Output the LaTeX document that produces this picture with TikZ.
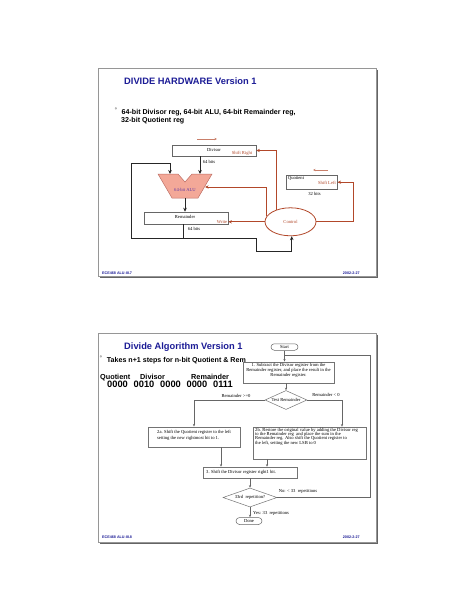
\documentclass[tikz,border=0pt]{standalone}
\usepackage{fontspec}
\setmainfont{Liberation Serif}
\newfontfamily\arialf{Liberation Sans}
\usetikzlibrary{arrows.meta,shapes.geometric,shapes.misc}
\definecolor{ttlblue}{RGB}{28,28,150}
\definecolor{ctlc}{RGB}{178,72,42}
\definecolor{alufill}{RGB}{243,168,152}
\definecolor{aluedge}{RGB}{190,110,100}
\definecolor{alutext}{RGB}{95,55,165}
\definecolor{frmc}{RGB}{150,150,150}
\definecolor{shdc}{RGB}{100,100,100}
\begin{document}
\begin{tikzpicture}[x=1pt,y=-1pt,
  ttl/.style={font=\arialf\bfseries\fontsize{9.3}{11}\selectfont, text=ttlblue, inner sep=0pt},
  body/.style={font=\arialf\bfseries\fontsize{7.1}{8}\selectfont, inner sep=0pt},
  hdr/.style={font=\arialf\bfseries\fontsize{7.3}{8}\selectfont, inner sep=0pt},
  num/.style={font=\arialf\bfseries\fontsize{9.3}{11}\selectfont, inner sep=0pt},
  bul/.style={font=\arialf\fontsize{6.5}{6.5}\selectfont, text=black!70, inner sep=0pt},
  foot/.style={font=\arialf\bfseries\fontsize{3.7}{4.4}\selectfont, text=ttlblue, inner sep=0pt},
  lbl/.style={font=\fontsize{4.6}{5.2}\selectfont, inner sep=0pt},
  ctltxt/.style={lbl, text=ctlc},
  reg/.style={draw=black!60, line width=0.5pt, fill=white, inner sep=0pt},
  blk/.style={draw=black!85, line width=1pt},
  blkarr/.style={blk, -{Stealth[length=4pt,width=3.6pt]}},
  ctlarr/.style={draw=ctlc, line width=0.8pt, -{Stealth[length=3.6pt,width=3.2pt]}},
  hint/.style={draw=ctlc!70, line width=0.6pt, -{Stealth[length=2.6pt,width=2.4pt]}},
  ctlnode/.style={ellipse, draw=ctlc, line width=0.8pt, fill=white, inner sep=0pt, font=\fontsize{4.6}{5.2}\selectfont, text=ctlc},
  fbox/.style={draw=black!55, line width=0.5pt, fill=white, inner sep=0pt},
  ftxt/.style={font=\fontsize{4.6}{4.3}\selectfont, inner sep=0pt},
  fl/.style={draw=black!60, line width=0.5pt},
  flarr/.style={fl, -{Stealth[length=2.6pt,width=2.2pt]}},
  term/.style={rounded rectangle, draw=black!60, line width=0.5pt, fill=white, inner sep=0pt, font=\fontsize{4.6}{5}\selectfont},
  dia/.style={diamond, draw=black!55, line width=0.5pt, fill=white, inner sep=0pt, aspect=2.5, font=\fontsize{4.6}{5}\selectfont},
]
\useasboundingbox (0,0) rectangle (474,613);
\fill[white] (0,0) rectangle (474,613);

% ================= Slide 1 =================
\draw[draw=frmc, line width=0.6pt] (98,68) rectangle (376,276.5);
\draw[draw=shdc, line width=1.3pt] (377.2,69.5) -- (377.2,277.7) -- (99.5,277.7);
\node[ttl, anchor=base west] (t1) at (124,84) {DIVIDE HARDWARE Version 1};
\node[bul] (bul1) at (116,110.5) {°};
\node[body, anchor=base west] (txt1a) at (121.5,114.9) {64-bit Divisor reg, 64-bit ALU, 64-bit Remainder reg,};
\node[body, anchor=base west] (txt1b) at (121,122.9) {32-bit Quotient reg};

% divisor
\coordinate (h1a) at (197,139);
\coordinate (h1b) at (217,139);
\draw[hint] (h1a) -- (h1b);
\node[reg, minimum width=84pt, minimum height=11pt] (div) at (214,150.5) {};
\node[lbl, anchor=base] (divl) at (214,151.6) {Divisor};
\node[ctltxt, anchor=base] (shr) at (242,154) {Shift Right};
\node[lbl, anchor=base] (db) at (209,163.5) {64 bits};

% ALU
\draw[fill=alufill, draw=aluedge, line width=0.5pt] (158,174) -- (178,174) -- (185,182) -- (192,174) -- (212,174) -- (198,198) -- (172,198) -- cycle;
\node[lbl, text=alutext] (alu) at (185,190) {64-bit ALU};
\coordinate (aluL) at (170,174);
\coordinate (aluR) at (200,174);
\coordinate (aluO) at (185,198);
\coordinate (aluC) at (205,187);

% remainder
\node[reg, minimum width=84pt, minimum height=12pt] (rem) at (186,218) {};
\node[lbl, anchor=base] (reml) at (185,218) {Remainder};
\node[ctltxt, anchor=base] (wr) at (222,223) {Write};
\node[lbl, anchor=base] (rb) at (194,230.7) {64 bits};

% control
\node[ctlnode, minimum width=51pt, minimum height=28pt] (ctl) at (290.5,221.8) {Control};

% quotient
\coordinate (h2a) at (328,170);
\coordinate (h2b) at (313,170);
\draw[hint] (h2a) -- (h2b);
\node[reg, minimum width=51pt, minimum height=14pt] (quot) at (311.7,182.2) {};
\node[lbl, anchor=base] (ql) at (296,179.5) {Quotient};
\node[ctltxt, anchor=base] (shl) at (327,184.5) {Shift Left};
\node[lbl, anchor=base] (qb) at (314.5,195.8) {32 bits};

% datapath
\draw[blkarr] (div.south -| aluR) -- (aluR);
\draw[blkarr] (aluO) -- (aluO |- rem.north);
\coordinate (lpT) at (131,163.5);
\coordinate (lpB) at (131,238);
\coordinate (lpR) at (256,238);
\coordinate (lpD) at (256,251);
\coordinate (remO) at (183,238);
\draw[blk] (rem.south -| remO) -- (remO);
\draw[blkarr] (lpB) -- (lpT) -| (aluL);
\draw[blkarr] (lpB) -- (lpR) -- (lpD) -| (ctl.275);

% control lines
\draw[ctlarr] (ctl.140) |- (div.east);
\draw[ctlarr] (ctl.167) |- (aluC);
\draw[ctlarr] (ctl.west) -- (ctl.west -| rem.east);
\coordinate (qt) at (353.3,182.2);
\draw[ctlarr] (ctl.east) -| (qt) -- (quot.east);

\node[foot, anchor=base west] (f1a) at (102,274.8) {ECE468 ALU-III.7};
\node[foot, anchor=base east] (f1b) at (360,274.8) {2002-2-27};

% ================= Slide 2 =================
\draw[draw=frmc, line width=0.6pt] (98,333) rectangle (376,542);
\draw[draw=shdc, line width=1.3pt] (377.2,334.5) -- (377.2,543.2) -- (99.5,543.2);
\node[ttl, anchor=base west] (t2) at (124,349.3) {Divide Algorithm Version 1};
\node[bul] (bul2) at (101,358.5) {°};
\node[body, anchor=base west] (txt2) at (106.7,362.5) {Takes n+1 steps for n-bit Quotient \& Rem};
\node[hdr, anchor=base west] (hq) at (100,379.5) {Quotient};
\node[hdr, anchor=base west] (hd) at (140,379.5) {Divisor};
\node[hdr, anchor=base west] (hr) at (191,379.5) {Remainder};
\node[num, anchor=base west] (nums) at (107,387.3) {0000\hspace{5.8pt}0010\hspace{5.8pt}0000\hspace{5.8pt}0000\hspace{5.8pt}0111};

% flowchart nodes
\node[term, minimum width=27pt, minimum height=6.5pt] (start) at (284.5,347) {Start};
\node[fbox, minimum width=91pt, minimum height=21pt] (b1) at (288.5,372.3) {};
\node[ftxt, anchor=north, align=center, font=\fontsize{4.6}{4.1}\selectfont] (b1t) at (288.5,362.8) {1. Subtract the Divisor register from the\\Remainder register, and place the result in the\\Remainder register.};
\node[dia, minimum width=42pt, minimum height=19pt] (test) at (286,400) {Test Remainder};
\node[fbox, minimum width=92pt, minimum height=20pt, line width=0.9pt] (b2a) at (194,437) {};
\node[ftxt, anchor=north west, align=left, font=\fontsize{4.6}{6.6}\selectfont] (b2at) at (157,429.6) {2a. Shift the Quotient register to the left\\setting the new rightmost bit to 1.};
\node[fbox, minimum width=113pt, minimum height=32pt] (b2b) at (309.5,443) {};
\node[ftxt, anchor=north west, align=left] (b2bt) at (255,427.8) {2b. Restore the original value by adding the Divisor reg\\to the Remainder reg\ \ and place the sum in the\\Remainder reg. Also shift the Quotient register to\\the left, setting the new LSB to 0};
\node[fbox, minimum width=94pt, minimum height=11pt] (b3) at (250,472.5) {};
\node[ftxt, anchor=west] (b3t) at (206,472.5) {3. Shift the Divisor register right1 bit.};
\node[dia, aspect=2.8, minimum width=54pt, minimum height=19pt] (rep) at (250,497.5) {33rd\ \ repetition?};
\node[term, minimum width=26pt, minimum height=7pt] (done) at (249,521) {Done};

% flowchart connectors
\draw[flarr] (start.south) -- (start.south |- b1.north);
\coordinate (lpF) at (370,355);
\draw[fl] (rep.east) -| (lpF) -- (lpF -| start.south);
\draw[flarr] (test.north |- b1.south) -- (test.north);
\coordinate (b2in) at (342,426.7);
\draw[flarr] (test.west) -| (b2a.north);
\draw[flarr] (test.east) -| (b2in);
\node[ftxt] (lge) at (236,396) {Remainder >=0};
\node[ftxt] (llt) at (326,395) {Remainder < 0};
\coordinate (xa) at (221,0);
\coordinate (xb) at (267,0);
\draw[flarr] (b2a.south -| xa) -- (b3.north -| xa);
\draw[flarr] (b2b.south -| xb) -- (b3.north -| xb);
\draw[flarr] (b3.south -| rep.north) -- (rep.north);
\draw[flarr] (rep.south) -- (rep.south |- done.north);
\node[ftxt] (lno) at (298,491) {No: < 33\ \ repetitions};
\node[ftxt, anchor=west] (lyes) at (253,513.5) {Yes: 33\ \ repetitions};

\node[foot, anchor=base west] (f2a) at (102,538.8) {ECE468 ALU-III.8};
\node[foot, anchor=base east] (f2b) at (360,538.8) {2002-2-27};
\end{tikzpicture}
\end{document}
